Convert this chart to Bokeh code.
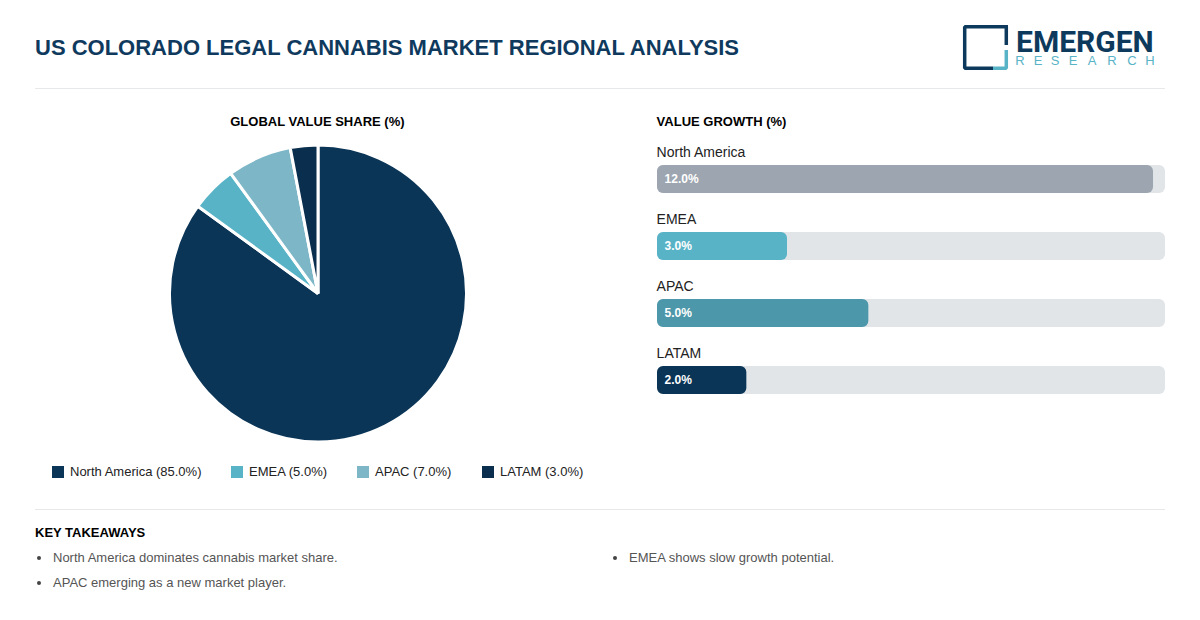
from bokeh.core.properties import value
from bokeh.embed import file_html
from bokeh.models import Range1d, ColumnDataSource
from bokeh.plotting import figure
from bokeh.resources import INLINE
import math

TITLE = "US COLORADO LEGAL CANNABIS MARKET REGIONAL ANALYSIS"
regions = ["North America", "EMEA", "APAC", "LATAM"]
share = [85.0, 5.0, 7.0, 3.0]
growth = [12.0, 3.0, 5.0, 2.0]
pie_colors = ["#0a3557", "#58b3c7", "#7db6c6", "#0a2e4d"]
bar_colors = ["#9da6b0", "#58b3c7", "#4c97a9", "#0a3557"]
takeaways = ["North America dominates cannabis market share.",
             "EMEA shows slow growth potential.",
             "APAC emerging as a new market player."]
takeaway_x = [53, 629, 53]
takeaway_y = [557.5, 557.5, 582.5]
legend_x = [52, 231, 357, 482]
bar_y = [179, 246, 313, 380]

FONT = value("Liberation Sans")
W, H = 1200, 620
OFF = 0.5
p = figure(width=W, height=H, output_backend="svg", toolbar_location=None,
           x_range=Range1d(OFF, W + OFF), y_range=Range1d(H + OFF, OFF),
           min_border=0, outline_line_color=None, background_fill_color="white",
           border_fill_color="white")
p.axis.visible = False
p.grid.visible = False

# bar value scale: 40.67 px per percentage point, zero at x=665
PX = 40.67
ZERO = 665
p.extra_x_ranges["growth"] = Range1d((OFF - ZERO) / PX, (W + OFF - ZERO) / PX)


def label(x, y, s, size, color="#000000", bold=False, align="left", baseline="middle", font=FONT):
    p.text([x], [y], text=[s], text_font=font, text_font_size=f"{size}px", text_color=color,
           text_font_style="bold" if bold else "normal", text_align=align, text_baseline=baseline)


# header
label(35, 47.5, TITLE, 22, "#0f3a5e", True)
p.segment([35], [88.5], [1165], [88.5], line_color="#e6e8ea", line_width=1)
p.segment([35], [509.5], [1165], [509.5], line_color="#e6e8ea", line_width=1)

# logo
DARK, LIGHT = "#0d3a5c", "#58b3c7"
p.line([1006.3, 1006.3], [45, 26.7], line_color=DARK, line_width=3.5)
p.line([1008, 964.7, 964.7, 993], [26.7, 26.7, 68.3, 68.3], line_color=DARK, line_width=3.5)
p.line([993, 1006.3, 1006.3], [68.3, 68.3, 50], line_color=LIGHT, line_width=3.5)
label(1016, 41.5, "EMERGEN", 30, DARK, True, font=value("Roboto"))
for ch, cx in zip("RESEARCH", [1020, 1038, 1055, 1073, 1092, 1112, 1132, 1150]):
    label(cx, 60, ch, 13, LIGHT, False, "center")

# pie
label(317.5, 121.5, "GLOBAL VALUE SHARE (%)", 13, "#000000", True, "center")
starts, ends = [], []
acc = 0.0
for v in share:
    starts.append(math.pi / 2 - acc * 2 * math.pi / 100)
    acc += v
    ends.append(math.pi / 2 - acc * 2 * math.pi / 100)
src = ColumnDataSource(dict(start=ends, end=starts, color=pie_colors))
p.wedge(x=318, y=293.5, radius=148.5, start_angle="start", end_angle="end", color="color",
        line_color="white", line_width=3, source=src)

# legend
for r, v, c, lx in zip(regions, share, pie_colors, legend_x):
    p.rect([lx + 6], [472], width=12, height=12, fill_color=c, line_color=None)
    label(lx + 18, 471.5, f"{r} ({v:.1f}%)", 13, "#222222")

# bars
label(656.6, 121.5, "VALUE GROWTH (%)", 13, "#000000", True)
left = (657 - ZERO) / PX
track_right = (1165 - ZERO) / PX
for r, v, c, y in zip(regions, growth, bar_colors, bar_y):
    label(656.6, y - 27, r, 14, "#222222")
    p.hbar(y=[y], left=[left], right=[track_right], height=28, x_range_name="growth",
           fill_color="#e1e5e8", line_color=None, border_radius=6)
    p.hbar(y=[y], left=[left], right=[v], height=28, x_range_name="growth",
           fill_color=c, line_color=None, border_radius=6)
    label(664.6, y, f"{v:.1f}%", 12, "#ffffff", True)

# takeaways
label(35, 532.5, "KEY TAKEAWAYS", 13, "#000000", True)
for s, x, y in zip(takeaways, takeaway_x, takeaway_y):
    p.scatter([x - 14], [y + 0.5], size=4, marker="circle", fill_color="#444444", line_color=None)
    label(x, y, s, 13, "#555555")

open("out.html", "w").write(file_html(p, INLINE))
